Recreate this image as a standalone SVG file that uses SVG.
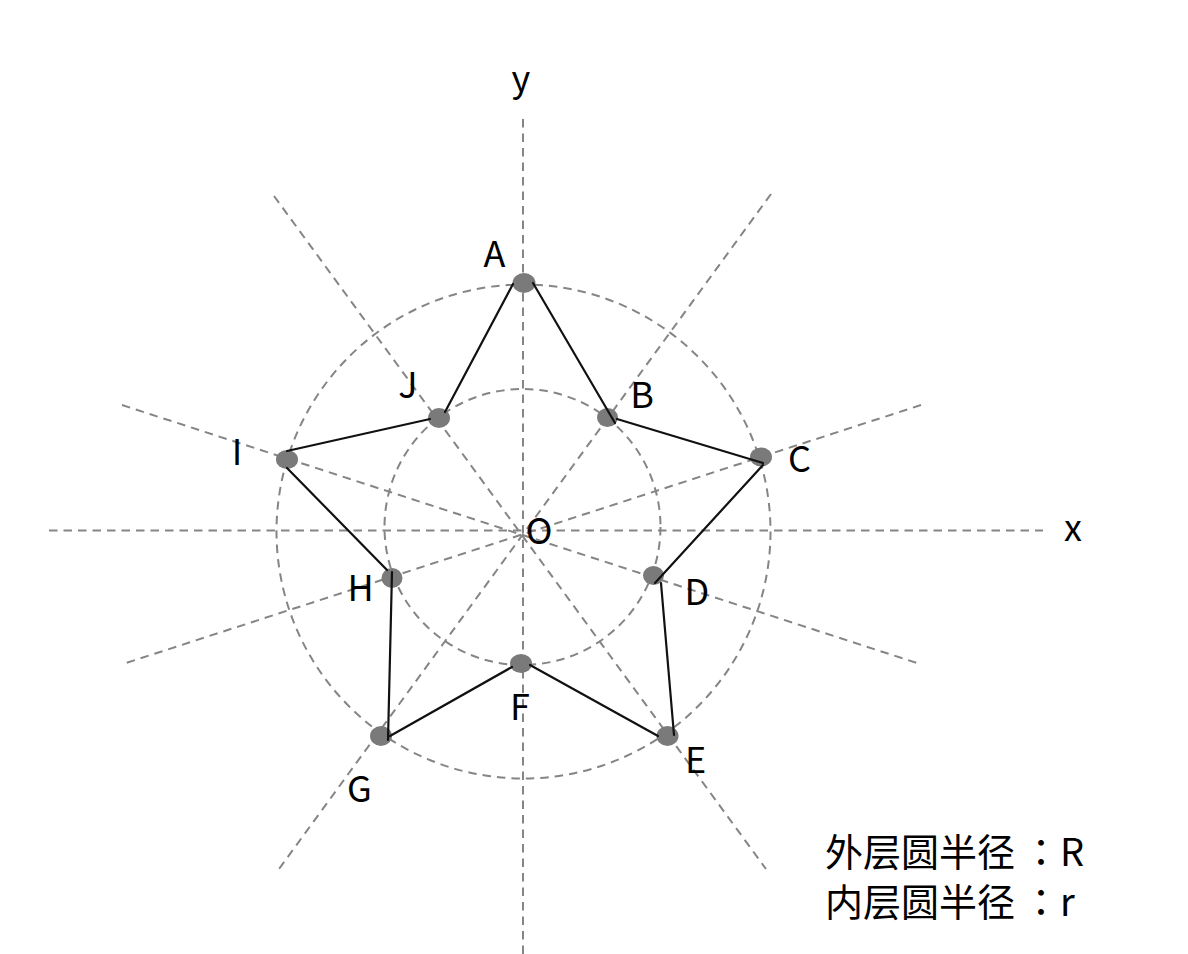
<svg xmlns="http://www.w3.org/2000/svg" width="1188" height="954" viewBox="0 0 1188 954">
<style>
.dash{fill:none;stroke:#858585;stroke-width:2;stroke-dasharray:8.5 6}
.edge{stroke:#111;stroke-width:2.2;fill:none;stroke-linecap:round}
.dot{fill:#7a7a7a}
.lbl{font-family:"Noto Sans CJK SC","Noto Sans",sans-serif;font-size:36px;fill:#000;text-anchor:middle}
.note{font-family:"Noto Sans CJK SC","Noto Sans",sans-serif;font-size:38px;fill:#000}
.colon{font-family:"Noto Sans CJK TC","Noto Sans CJK SC",sans-serif}
</style>
<rect width="1188" height="954" fill="#fff"/>
<g id="guides">
<line class="dash" x1="49" y1="530.5" x2="1043" y2="530.5"/>
<line class="dash" x1="523" y1="119" x2="523" y2="954"/>
<line class="dash" x1="122" y1="405" x2="920" y2="664"/>
<line class="dash" x1="921" y1="405" x2="123" y2="664"/>
<line class="dash" x1="274" y1="196" x2="766" y2="869"/>
<line class="dash" x1="771" y1="194" x2="279" y2="869"/>
<circle class="dash" cx="523.5" cy="531.5" r="247"/>
<circle class="dash" cx="522.5" cy="527" r="138"/>
</g>
<g id="nodes">
<g id="A"><ellipse class="dot" cx="524" cy="283" rx="11.5" ry="10"/><text class="lbl" x="494.5" y="267">A</text></g>
<g id="B"><ellipse class="dot" cx="607.5" cy="417.5" rx="10.5" ry="9.5"/><text class="lbl" x="642" y="408">B</text></g>
<g id="C"><ellipse class="dot" cx="761" cy="457" rx="11" ry="9.5"/><text class="lbl" x="799.5" y="472">C</text></g>
<g id="D"><ellipse class="dot" cx="653.5" cy="575.5" rx="10.5" ry="9.5"/><text class="lbl" x="697" y="605">D</text></g>
<g id="E"><ellipse class="dot" cx="667.5" cy="736" rx="11" ry="10"/><text class="lbl" x="695.5" y="773">E</text></g>
<g id="F"><ellipse class="dot" cx="521" cy="663.5" rx="11" ry="9.5"/><text class="lbl" x="520" y="720">F</text></g>
<g id="G"><ellipse class="dot" cx="381" cy="736" rx="11" ry="10"/><text class="lbl" x="359.5" y="802">G</text></g>
<g id="H"><ellipse class="dot" cx="392" cy="578" rx="10.5" ry="10"/><text class="lbl" x="360.5" y="601">H</text></g>
<g id="I"><ellipse class="dot" cx="287" cy="459.5" rx="11" ry="9.5"/><text class="lbl" x="237" y="465">I</text></g>
<g id="J"><ellipse class="dot" cx="439" cy="418" rx="11" ry="10"/><text class="lbl" x="408" y="398">J</text></g>
<g id="O"><text class="lbl" x="539" y="544">O</text></g>
</g>
<g id="connectors">
<line class="edge" x1="533" y1="283" x2="615" y2="423"/>
<line class="edge" x1="617" y1="419" x2="763" y2="463"/>
<line class="edge" x1="763" y1="465" x2="655" y2="583"/>
<line class="edge" x1="661" y1="583" x2="674" y2="735"/>
<line class="edge" x1="658" y1="736" x2="530" y2="665"/>
<line class="edge" x1="512" y1="667" x2="390" y2="736"/>
<line class="edge" x1="388" y1="740" x2="392" y2="572"/>
<line class="edge" x1="387" y1="570" x2="287" y2="468"/>
<line class="edge" x1="287" y1="451" x2="430" y2="419"/>
<line class="edge" x1="445" y1="412" x2="513" y2="284"/>
</g>
<g id="axes-labels">
<text class="lbl" x="521" y="92">y</text>
<text class="lbl" x="1073" y="541">x</text>
</g>
<g id="legend">
<text class="note" x="825" y="866">外层圆半径<tspan class="colon" x="1022">：</tspan><tspan x="1060">R</tspan></text>
<text class="note" x="825" y="916">内层圆半径<tspan class="colon" x="1022">：</tspan><tspan x="1060">r</tspan></text>
</g>
</svg>
